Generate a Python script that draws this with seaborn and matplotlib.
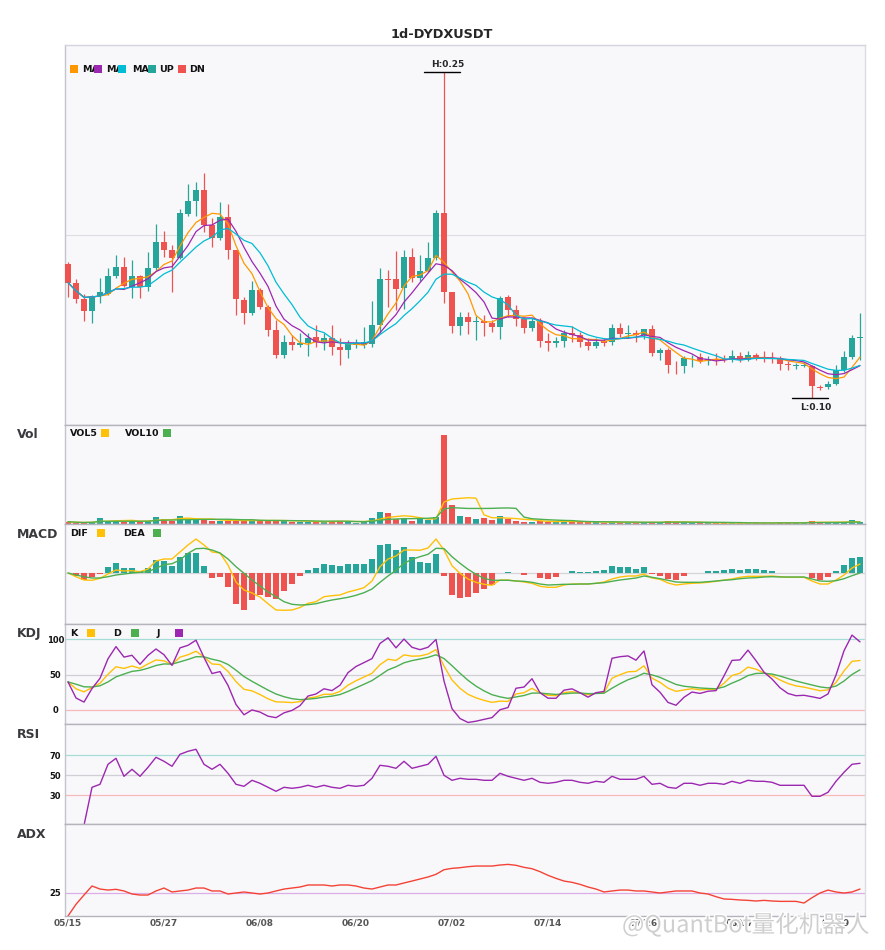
import numpy as np
import pandas as pd
import matplotlib
matplotlib.use("Agg")
import matplotlib.pyplot as plt
import matplotlib.patheffects as pe
from matplotlib.patches import Rectangle
import seaborn as sns

nan = np.nan

# daily candles 05/15 .. 08/22
opens = [
    0.1616, 0.1530, 0.1455, 0.1401, 0.1470, 0.1478, 0.1561, 0.1602, 0.1512, 0.1561,
    0.1512, 0.1598, 0.1719, 0.1680, 0.1645, 0.1847, 0.1906, 0.1956, 0.1795, 0.1737,
    0.1832, 0.1680, 0.1452, 0.1392, 0.1497, 0.1420, 0.1313, 0.1199, 0.1257, 0.1245,
    0.1254, 0.1280, 0.1259, 0.1277, 0.1236, 0.1221, 0.1245, 0.1245, 0.1248, 0.1336,
    0.1547, 0.1547, 0.1504, 0.1648, 0.1550, 0.1584, 0.1642, 0.1850, 0.1489, 0.1332,
    0.1372, 0.1351, 0.1354, 0.1342, 0.1328, 0.1463, 0.1403, 0.1362, 0.1323, 0.1354,
    0.1262, 0.1250, 0.1262, 0.1300, 0.1287, 0.1257, 0.1239, 0.1262, 0.1257, 0.1322,
    0.1293, 0.1296, 0.1290, 0.1316, 0.1205, 0.1221, 0.1152, 0.1144, 0.1182, 0.1187,
    0.1167, 0.1178, 0.1178, 0.1172, 0.1193, 0.1172, 0.1198, 0.1183, 0.1182, 0.1182,
    0.1155, 0.1147, 0.1147, 0.1144, 0.1049, 0.1049, 0.1065, 0.1126, 0.1187, 0.1277,
]
highs = [
    0.1627, 0.1545, 0.1478, 0.1473, 0.1550, 0.1596, 0.1657, 0.1647, 0.1634, 0.1563,
    0.1670, 0.1800, 0.1768, 0.1703, 0.1867, 0.1984, 0.1991, 0.2034, 0.1826, 0.1899,
    0.1892, 0.1682, 0.1466, 0.1539, 0.1504, 0.1428, 0.1359, 0.1287, 0.1291, 0.1297,
    0.1297, 0.1336, 0.1297, 0.1336, 0.1274, 0.1267, 0.1270, 0.1328, 0.1447, 0.1598,
    0.1588, 0.1677, 0.1680, 0.1688, 0.1657, 0.1716, 0.1864, 0.2500, 0.1489, 0.1397,
    0.1397, 0.1377, 0.1381, 0.1359, 0.1469, 0.1473, 0.1428, 0.1374, 0.1366, 0.1369,
    0.1297, 0.1282, 0.1313, 0.1331, 0.1305, 0.1274, 0.1274, 0.1274, 0.1340, 0.1343,
    0.1336, 0.1310, 0.1318, 0.1336, 0.1228, 0.1228, 0.1167, 0.1190, 0.1198, 0.1205,
    0.1193, 0.1205, 0.1198, 0.1221, 0.1210, 0.1216, 0.1205, 0.1216, 0.1210, 0.1193,
    0.1167, 0.1159, 0.1163, 0.1152, 0.1060, 0.1075, 0.1152, 0.1213, 0.1287, 0.1389,
]
lows = [
    0.1466, 0.1435, 0.1355, 0.1346, 0.1435, 0.1473, 0.1550, 0.1512, 0.1461, 0.1457,
    0.1493, 0.1588, 0.1650, 0.1489, 0.1639, 0.1838, 0.1837, 0.1765, 0.1696, 0.1726,
    0.1637, 0.1381, 0.1340, 0.1381, 0.1408, 0.1285, 0.1181, 0.1185, 0.1221, 0.1233,
    0.1190, 0.1236, 0.1221, 0.1198, 0.1149, 0.1182, 0.1228, 0.1228, 0.1236, 0.1297,
    0.1420, 0.1404, 0.1408, 0.1535, 0.1539, 0.1581, 0.1634, 0.1435, 0.1300, 0.1287,
    0.1294, 0.1264, 0.1285, 0.1305, 0.1271, 0.1374, 0.1331, 0.1300, 0.1308, 0.1236,
    0.1213, 0.1233, 0.1233, 0.1259, 0.1236, 0.1218, 0.1228, 0.1239, 0.1244, 0.1279,
    0.1274, 0.1259, 0.1271, 0.1193, 0.1175, 0.1116, 0.1109, 0.1116, 0.1140, 0.1159,
    0.1152, 0.1152, 0.1163, 0.1163, 0.1163, 0.1167, 0.1175, 0.1163, 0.1159, 0.1126,
    0.1126, 0.1132, 0.1141, 0.0998, 0.1034, 0.1040, 0.1058, 0.1119, 0.1178, 0.1175,
]
closes = [
    0.1530, 0.1455, 0.1401, 0.1470, 0.1486, 0.1561, 0.1602, 0.1515, 0.1561, 0.1509,
    0.1598, 0.1719, 0.1680, 0.1642, 0.1850, 0.1906, 0.1956, 0.1795, 0.1737, 0.1832,
    0.1680, 0.1454, 0.1392, 0.1497, 0.1420, 0.1313, 0.1199, 0.1257, 0.1245, 0.1253,
    0.1277, 0.1259, 0.1277, 0.1236, 0.1221, 0.1248, 0.1250, 0.1256, 0.1336, 0.1547,
    0.1542, 0.1501, 0.1648, 0.1550, 0.1584, 0.1642, 0.1850, 0.1489, 0.1332, 0.1372,
    0.1349, 0.1354, 0.1342, 0.1328, 0.1460, 0.1403, 0.1362, 0.1323, 0.1354, 0.1262,
    0.1250, 0.1262, 0.1300, 0.1287, 0.1257, 0.1239, 0.1257, 0.1254, 0.1322, 0.1293,
    0.1296, 0.1288, 0.1316, 0.1208, 0.1221, 0.1149, 0.1149, 0.1185, 0.1185, 0.1167,
    0.1178, 0.1175, 0.1175, 0.1193, 0.1175, 0.1198, 0.1182, 0.1181, 0.1180, 0.1155,
    0.1152, 0.1152, 0.1152, 0.1052, 0.1046, 0.1065, 0.1126, 0.1187, 0.1276, 0.1282,
]
volumes = [
    2.3, 1.3, 1.0, 2.3, 6.3, 3.3, 3.3, 2.3, 3.3, 2.3,
    3.3, 7.3, 5.3, 3.3, 8.3, 5.3, 4.3, 4.3, 3.3, 3.3,
    3.3, 4.3, 3.3, 3.3, 3.3, 3.3, 4.3, 3.3, 2.3, 2.3,
    2.3, 2.3, 2.3, 3.3, 3.3, 2.3, 1.3, 2.3, 6.3, 12.3,
    11.3, 5.3, 6.3, 3.3, 5.3, 4.3, 7.3, 90.3, 19.3, 8.3,
    7.3, 5.3, 6.3, 4.3, 8.3, 5.3, 3.3, 2.3, 2.3, 3.3,
    2.3, 1.7, 3.3, 2.3, 2.3, 1.7, 1.7, 1.3, 2.3, 1.7,
    1.3, 1.3, 1.7, 2.3, 1.7, 3.3, 1.7, 1.7, 1.3, 1.3,
    1.0, 1.0, 1.0, 1.0, 1.0, 1.0, 1.0, 1.0, 1.0, 2.3,
    1.0, 1.0, 1.0, 3.3, 2.3, 1.3, 1.3, 1.7, 4.3, 2.3,
]
# MACD values in units of 1e-4
dif_vals = [
    0, -3.7, -7, -7.3, -5.3, -1, 3, 2, 2.3, 1.3,
    4, 12, 14, 14, 21, 28, 34, 28, 21, 20,
    8, -9, -17, -20, -24, -30.7, -37, -37.3, -37, -34.5,
    -30.3, -28.7, -23.7, -22.7, -22, -19, -17, -14.7, -8, 6.3,
    14, 17, 23, 23, 22.7, 25, 34, 23, 7.3, -0.3,
    -6, -9.3, -11.3, -12.3, -7, -7, -8, -9, -10.3, -13.3,
    -14.3, -14.3, -12, -11, -11, -11, -10.3, -9, -6, -4,
    -3, -3, -1, -5, -6.3, -10, -12, -11, -10.3, -10,
    -9.3, -8.3, -7, -6, -4.3, -3.3, -3.3, -3.3, -3, -3.7,
    -4.3, -4.3, -4.3, -8, -11, -11, -7, -2, 5, 9,
]
dea_vals = [
    0, -2, -3.7, -5, -5, -3.7, -2, -1, 0, 0.7,
    1.3, 4.7, 8.3, 9.3, 13, 19.7, 24.3, 24.7, 23, 20,
    14, 6.3, -0.3, -7, -13, -19, -23.7, -28.7, -31.3, -32,
    -31.7, -30.7, -28.7, -27, -25.7, -24.3, -22.3, -19.7, -16, -9.3,
    -3, 2.7, 9.7, 13.7, 16.3, 18.7, 24.7, 24.4, 16.3, 9.7,
    3.7, -1.3, -5.3, -7.3, -7.3, -7.3, -8, -8.3, -9.3, -11,
    -12, -11.7, -11.3, -11.3, -11, -11, -10.3, -9.7, -8.3, -7,
    -6, -5, -3, -4.3, -5.7, -7.3, -9, -9.3, -9.3, -9.3,
    -8.7, -8, -7.3, -6.7, -5.7, -5, -4.7, -4, -3.7, -4,
    -4, -4, -4, -6, -8, -8.3, -7.7, -5.7, -2.7, 0,
]
hist_vals = [
    0, -2.7, -7, -4.3, -0.5, 6.3, 10.3, 5, 5, 2.3,
    5, 13.3, 12.3, 7.3, 16.3, 20.3, 20.3, 7, -4.7, -3.7,
    -13.7, -30.7, -36.7, -26.7, -22, -23.7, -25.7, -17.7, -10.7, -3.3,
    3, 5, 9, 8, 7, 9, 9, 9, 14, 28,
    29, 23, 26, 16, 11, 10, 19, -2.7, -21.7, -24.7,
    -23.7, -19.7, -15.7, -12.3, 0, 1, 0, -1.7, 0, -4.7,
    -5.7, -3.7, 0, 2, 1, 1, 2, 3, 7, 6,
    6, 4, 6, -1, -3, -6.3, -7, -2.7, 0, 0,
    2, 2, 3, 4, 3, 4, 4, 3, 2, 0,
    0, 0, 0, -5, -7, -3.7, 2, 8, 15, 16,
]
rsi_vals = [
    nan, 0, 0, 38, 41, 61, 67, 49, 56, 49,
    58, 68, 64, 59, 71, 74, 76, 61, 56, 61,
    52, 41, 39, 45, 42, 38, 34, 38, 37, 38,
    40, 38, 40, 38, 37, 40, 39, 40, 47, 60,
    59, 57, 64, 57, 59, 61, 69, 50, 45, 47,
    46, 46, 45, 45, 52, 49, 47, 45, 47, 43,
    42, 43, 45, 45, 43, 42, 44, 43, 49, 46,
    46, 46, 49, 41, 42, 38, 37, 42, 42, 40,
    42, 42, 41, 44, 42, 45, 44, 44, 43, 40,
    40, 40, 40, 29, 29, 33, 44, 53, 61, 62,
]
adx_vals = [
    0, 12.7, 22.8, 32.6, 29.3, 28.2, 29.0, 27.2, 23.9, 22.8,
    22.8, 27.2, 30.4, 26.1, 27.2, 28.2, 30.4, 30.4, 27.2, 27.2,
    23.9, 25.0, 26.1, 25.0, 23.9, 25.0, 27.2, 29.3, 30.4, 31.5,
    33.7, 33.7, 33.7, 32.6, 33.7, 33.7, 32.6, 30.4, 29.3, 31.5,
    33.7, 33.7, 35.9, 38.0, 40.2, 42.4, 45.3, 50.3, 51.8, 52.5,
    53.6, 54.3, 54.3, 54.3, 55.4, 56.1, 55.1, 52.9, 51.4, 48.2,
    44.2, 40.9, 38.0, 36.6, 34.4, 31.5, 29.3, 26.1, 27.2, 28.2,
    28.2, 27.2, 27.2, 26.1, 25.0, 26.1, 27.2, 27.2, 27.2, 25.0,
    23.9, 21.0, 18.5, 18.1, 17.4, 17.0, 16.3, 17.0, 16.3, 15.9,
    15.9, 15.9, 14.1, 19.9, 25.0, 28.2, 26.1, 25.0, 26.1, 29.3,
]
xtick_pos = [0, 12, 24, 36, 48, 60, 72, 84, 96]
xtick_labels = ["05/15", "05/27", "06/08", "06/20", "07/02", "07/14", "07/26", "08/07", "08/19"]

UP, DN = "#26a69a", "#ef5350"
YEL, GRN, PUR = "#ffc107", "#4caf50", "#9c27b0"

df = pd.DataFrame({"open": opens, "high": highs, "low": lows, "close": closes, "vol": volumes,
                   "dif": dif_vals, "dea": dea_vals, "hist": hist_vals,
                   "rsi": rsi_vals, "adx": adx_vals})
n = len(df)
idx = np.arange(n)
df["up"] = df["close"] >= df["open"]
colors = np.where(df["up"], UP, DN)

# moving averages and KDJ from the candles
df["ma5"] = df["close"].rolling(5, min_periods=1).mean()
df["ma7"] = df["close"].rolling(7, min_periods=1).mean()
df["ma10"] = df["close"].rolling(10, min_periods=1).mean()
df["vol5"] = df["vol"].rolling(5, min_periods=1).mean()
df["vol10"] = df["vol"].rolling(10, min_periods=1).mean()
llv = df["low"].rolling(9, min_periods=1).min()
hhv = df["high"].rolling(9, min_periods=1).max()
rsv = (df["close"] - llv) / (hhv - llv) * 100
df["k"] = rsv.ewm(com=2, adjust=False).mean()
df["d"] = df["k"].ewm(com=2, adjust=False).mean()
df["j"] = 3 * df["k"] - 2 * df["d"]

sns.set_theme(style="white")
plt.rcParams["font.family"] = ["DejaVu Sans"]

W, H = 885, 950
fig = plt.figure(figsize=(W / 100, H / 100), dpi=100)


def add_panel(top, bottom):
    ax = fig.add_axes([65 / W, 1 - bottom / H, 800 / W, (bottom - top) / H])
    ax.set_facecolor("#f8f8fb")
    ax.set_xlim(-0.375, n - 0.375)
    for s in ["top", "bottom"]:
        ax.spines[s].set_color("#b4b4bc")
    ax.spines["left"].set_color("#c4c4cc")
    ax.spines["right"].set_color("#dcdce2")
    for s in ax.spines.values():
        s.set_linewidth(1)
    ax.tick_params(length=0)
    ax.set_xticks([])
    ax.set_yticks([])
    return ax


ax_p = add_panel(45, 425)
ax_v = add_panel(425, 524)
ax_m = add_panel(524, 624)
ax_k = add_panel(624, 724)
ax_r = add_panel(724, 824)
ax_a = add_panel(824, 916)
ax_p.spines["top"].set_color("#d4d4dc")

# price panel
lo, hi = df["low"].min(), df["high"].max()
pad = (hi - lo) * 0.082
ax_p.set_ylim(lo - pad, hi + pad)
ax_p.axhline((hi + lo) / 2, color="#dddde3", lw=0.8, zorder=0)
ax_p.vlines(idx, df["low"], df["high"], colors=colors, lw=0.9, zorder=2)
body = np.maximum((df["close"] - df["open"]).abs(), 0.0003)
ax_p.bar(idx, body, bottom=np.minimum(df["open"], df["close"]), width=0.75,
         color=colors, zorder=3, linewidth=0)
for col, c in [("ma5", "#ff9800"), ("ma7", PUR), ("ma10", "#00bcd4")]:
    sns.lineplot(x=idx, y=df[col].values, ax=ax_p, color=c, lw=0.9, legend=False, zorder=4)
hi_i, lo_i = int(df["high"].idxmax()), int(df["low"].idxmin())
ax_p.plot([hi_i - 2.5, hi_i + 2], [hi, hi], color="black", lw=1, zorder=5)
ax_p.annotate(f"H:{hi:.2f}", (hi_i + 0.5, hi), xytext=(0, 2), textcoords="offset points",
              ha="center", va="bottom", fontsize=6.5, fontweight="bold")
ax_p.plot([lo_i - 2.5, lo_i + 2], [lo, lo], color="black", lw=1, zorder=5)
ax_p.annotate(f"L:{lo:.2f}", (lo_i + 0.5, lo), xytext=(0, -3.5), textcoords="offset points",
              ha="center", va="top", fontsize=6.5, fontweight="bold")

# volume
ax_v.set_ylim(0, df["vol"].max() * 1.107)
ax_v.bar(idx, df["vol"], width=0.75, color=colors, linewidth=0, zorder=2)
sns.lineplot(x=idx, y=df["vol5"].values, ax=ax_v, color=YEL, lw=1, legend=False, zorder=3)
sns.lineplot(x=idx, y=df["vol10"].values, ax=ax_v, color=GRN, lw=1, legend=False, zorder=3)

# MACD
ax_m.set_ylim(-51, 49)
ax_m.axhline(0, color="#d4d4d8", lw=0.9, zorder=0)
ax_m.bar(idx, df["hist"], width=0.75, color=np.where(df["hist"] >= 0, UP, DN), linewidth=0, zorder=2)
sns.lineplot(x=idx, y=df["dif"].values, ax=ax_m, color=YEL, lw=1, legend=False, zorder=3)
sns.lineplot(x=idx, y=df["dea"].values, ax=ax_m, color=GRN, lw=1, legend=False, zorder=3)

# KDJ
ax_k.set_ylim(-20, 122)
for lvl, c in [(100, "#a6dcd6"), (50, "#cfcfd4"), (0, "#f6b8b8")]:
    ax_k.axhline(lvl, color=c, lw=0.9, zorder=0)
sns.lineplot(x=idx, y=df["k"].values, ax=ax_k, color=YEL, lw=1, legend=False)
sns.lineplot(x=idx, y=df["d"].values, ax=ax_k, color=GRN, lw=1, legend=False)
sns.lineplot(x=idx, y=df["j"].values, ax=ax_k, color=PUR, lw=1, legend=False)
ax_k.set_yticks([0, 50, 100])

# RSI
ax_r.set_ylim(1.3, 101.3)
for lvl, c in [(70, "#a6dcd6"), (50, "#cfcfd4"), (30, "#f6b8b8")]:
    ax_r.axhline(lvl, color=c, lw=0.9, zorder=0)
sns.lineplot(x=idx, y=df["rsi"].values, ax=ax_r, color=PUR, lw=1, legend=False)
ax_r.set_yticks([30, 50, 70])

# ADX
ax_a.set_ylim(0, 100)
ax_a.axhline(25, color="#dcaee6", lw=0.9, zorder=0)
sns.lineplot(x=idx, y=df["adx"].values, ax=ax_a, color="#f44336", lw=1, legend=False)
ax_a.set_yticks([25])
ax_a.set_xticks(xtick_pos)
ax_a.set_xticklabels(xtick_labels, fontsize=6.5, fontweight="bold", color="#555555")
ax_a.tick_params(axis="x", pad=2)

for ax in (ax_k, ax_r, ax_a):
    ax.tick_params(axis="y", pad=7)
    for t in ax.get_yticklabels():
        t.set_fontsize(6)
        t.set_fontweight("bold")
        t.set_ha("center")
        t.set_color("#111111")
for ax in (ax_p, ax_v, ax_m, ax_k, ax_r, ax_a):
    ax.set_xlabel("")
    ax.set_ylabel("")

# title, panel names
fig.text(442 / W, 1 - 34 / H, "1d-DYDXUSDT", ha="center", va="center", fontsize=9.3, fontweight="bold")
for name, y in [("Vol", 434), ("MACD", 535), ("KDJ", 634), ("RSI", 735), ("ADX", 834)]:
    fig.text(17 / W, 1 - y / H, name, ha="left", va="center", fontsize=9, fontweight="bold", color="#3a3a3e")


def square(x, y, c):
    fig.add_artist(Rectangle((x / W, 1 - (y + 8) / H), 8 / W, 8 / H, transform=fig.transFigure,
                             color=c, zorder=6, lw=0))


def label(x, y, s):
    fig.text(x / W, 1 - y / H, s, ha="left", va="center", fontsize=6.8, fontweight="bold",
             color="#111111", zorder=5)


# price legend: marker then text
for sx, tx, c, s in [(70, 81.7, "#ff9800", "MA"), (94.3, 105.7, PUR, "MA"), (117.7, 131.7, "#00bcd4", "MA"),
                     (148.3, 159.3, UP, "UP"), (178.3, 189.3, DN, "DN")]:
    label(tx, 69, s)
    square(sx, 65.3, c)
# sub panel legends: text then marker
for tx, sx, y, c, s in [(70, 101, 433, YEL, "VOL5"), (125, 162.7, 433, GRN, "VOL10"),
                        (70, 97, 533.3, YEL, "DIF"), (123.3, 153, 533.3, GRN, "DEA"),
                        (70, 86.7, 633.3, YEL, "K"), (113.3, 131, 633.3, GRN, "D"),
                        (156.7, 175, 633.3, PUR, "J")]:
    label(tx, y, s)
    square(sx, y - 4, c)

# watermark
fig.text(622 / W, 1 - 925 / H, "@QuantBot量化机器人", ha="left", va="center", fontsize=17,
         color="#cfcfcf", family=["Noto Sans CJK SC", "DejaVu Sans"], zorder=8,
         path_effects=[pe.withStroke(linewidth=2, foreground="white")])

fig.savefig("out.png", dpi=100)
